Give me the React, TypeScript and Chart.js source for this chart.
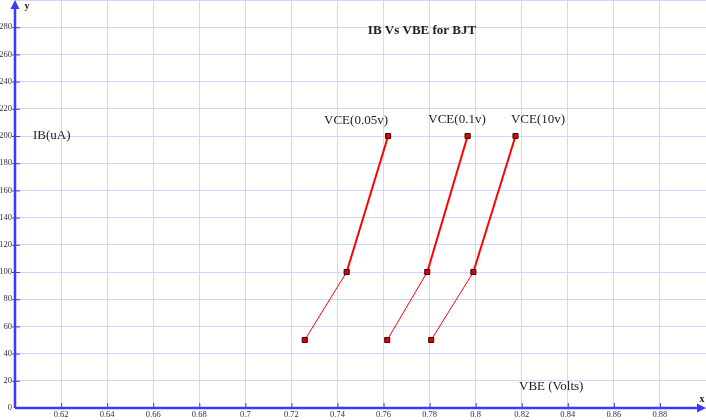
import React, { useEffect, useRef } from "react";
import { Chart, registerables } from "chart.js";

Chart.register(...registerables);

// IB (uA) values shared by all curves
const ibValues = [50, 100, 200];
// VBE (V) per curve
const vbeVce005 = [0.7258, 0.744, 0.762];
const vbeVce01 = [0.7616, 0.779, 0.7965];
const vbeVce10 = [0.7807, 0.799, 0.8173];
const seriesNames = ["VCE(0.05v)", "VCE(0.1v)", "VCE(10v)"];
const chartTitle = "IB Vs VBE for BJT";
const yAxisTitle = "IB(uA)";
const xAxisTitle = "VBE (Volts)";

const AXIS_BLUE = "#3a3aff";
const GRID = "#d4d4ff";
const SERIF = "'Liberation Serif', 'Times New Roman', serif";

function toPoints(xs: number[]) {
  return xs.map((x, i) => ({ x, y: ibValues[i] }));
}

const overlayPlugin = {
  id: "overlay",
  afterDatasetsDraw(chart: any) {
    const { ctx, chartArea, scales } = chart;
    const xs = scales.x;
    const ys = scales.y;
    const left = chartArea.left;
    const bottom = chartArea.bottom;
    const right = chart.width;
    ctx.save();
    ctx.strokeStyle = AXIS_BLUE;
    ctx.fillStyle = AXIS_BLUE;
    ctx.lineWidth = 1;
    // tick marks
    xs.ticks.forEach((t: any) => {
      const px = xs.getPixelForValue(t.value);
      if (px <= left + 1 || px >= right - 2) return;
      ctx.beginPath();
      ctx.moveTo(px + 0.5, bottom - 5);
      ctx.lineTo(px + 0.5, bottom);
      ctx.stroke();
    });
    ys.ticks.forEach((t: any) => {
      const py = ys.getPixelForValue(t.value);
      if (py >= bottom - 1 || py <= 2) return;
      ctx.beginPath();
      ctx.moveTo(left - 3, py + 0.5);
      ctx.lineTo(left + 5, py + 0.5);
      ctx.stroke();
    });
    // axes
    ctx.lineWidth = 2.5;
    ctx.beginPath();
    ctx.moveTo(left, bottom);
    ctx.lineTo(right - 6, bottom);
    ctx.stroke();
    ctx.beginPath();
    ctx.moveTo(left, bottom);
    ctx.lineTo(left, 6);
    ctx.stroke();
    // arrowheads
    ctx.beginPath();
    ctx.moveTo(right, bottom);
    ctx.lineTo(right - 9, bottom - 4.5);
    ctx.lineTo(right - 9, bottom + 4.5);
    ctx.closePath();
    ctx.fill();
    ctx.beginPath();
    ctx.moveTo(left, 0);
    ctx.lineTo(left - 4.5, 9);
    ctx.lineTo(left + 4.5, 9);
    ctx.closePath();
    ctx.fill();

    // texts
    ctx.fillStyle = "#222";
    ctx.textBaseline = "middle";
    ctx.font = `bold 10px ${SERIF}`;
    ctx.textAlign = "center";
    ctx.fillText("y", 27, 6);
    ctx.fillText("x", 702, 399);
    ctx.font = `bold 13px ${SERIF}`;
    ctx.fillText(chartTitle, 422, 31);
    ctx.font = `13px ${SERIF}`;
    ctx.textAlign = "left";
    ctx.fillText(yAxisTitle, 33, 136);
    ctx.fillText(xAxisTitle, 519, 387);
    ctx.textAlign = "center";
    const labelPos = [
      [356, 121],
      [457, 120],
      [538, 120],
    ];
    seriesNames.forEach((n, i) => ctx.fillText(n, labelPos[i][0], labelPos[i][1]));
    ctx.restore();
  },
};

export default function App() {
  const ref = useRef<HTMLCanvasElement | null>(null);
  useEffect(() => {
    if (!ref.current) return;
    const mk = (label: string, xs: number[]) => ({
      label,
      data: toPoints(xs),
      borderColor: "#ff0000",
      backgroundColor: "#ee0000",
      borderWidth: 1.5,
      segment: {
        borderWidth: (c: any) => (c.p0DataIndex === 0 ? 1 : 2),
      },
      pointStyle: "rect" as const,
      pointRadius: 3.6,
      pointBorderColor: "#3a0000",
      pointBorderWidth: 1,
      pointBackgroundColor: "#e00000",
      showLine: true,
      tension: 0,
    });
    const chart = new Chart(ref.current, {
      type: "scatter",
      data: {
        datasets: [
          mk(seriesNames[0], vbeVce005),
          mk(seriesNames[1], vbeVce01),
          mk(seriesNames[2], vbeVce10),
        ],
      },
      options: {
        animation: false,
        responsive: false,
        maintainAspectRatio: false,
        layout: { padding: 0, autoPadding: false },
        plugins: {
          legend: { display: false },
          title: { display: false },
          tooltip: { enabled: false },
        },
        scales: {
          x: {
            type: "linear",
            min: 0.6,
            max: 0.9,
            afterFit: (s: any) => {
              s.height = 12;
              s.paddingLeft = 0;
              s.paddingRight = 0;
            },
            border: { display: false },
            grid: { color: GRID, lineWidth: 1, drawTicks: false },
            ticks: {
              stepSize: 0.02,
              autoSkip: false,
              maxRotation: 0,
              padding: 2,
              color: "#333",
              font: { family: SERIF, size: 8.5 },
              callback: (v: any) => {
                const n = +(+v).toFixed(2);
                if (n <= 0.6001 || n >= 0.8999) return "";
                return String(n);
              },
            },
          },
          y: {
            type: "linear",
            min: 0,
            max: 300,
            afterFit: (s: any) => {
              s.width = 15;
              s.paddingTop = 0;
              s.paddingBottom = 0;
            },
            border: { display: false },
            grid: { color: GRID, lineWidth: 1, drawTicks: false },
            ticks: {
              stepSize: 20,
              autoSkip: false,
              padding: 3,
              color: "#333",
              font: { family: SERIF, size: 8.5 },
              callback: (v: any) => (+v >= 300 ? "" : String(v)),
            },
          },
        },
      },
      plugins: [overlayPlugin],
    });
    return () => chart.destroy();
  }, []);
  return (
    <div style={{ position: "fixed", left: 0, top: 0, width: 706, height: 420, background: "#fff" }}>
      <canvas ref={ref} width={706} height={420} style={{ display: "block" }} />
    </div>
  );
}
